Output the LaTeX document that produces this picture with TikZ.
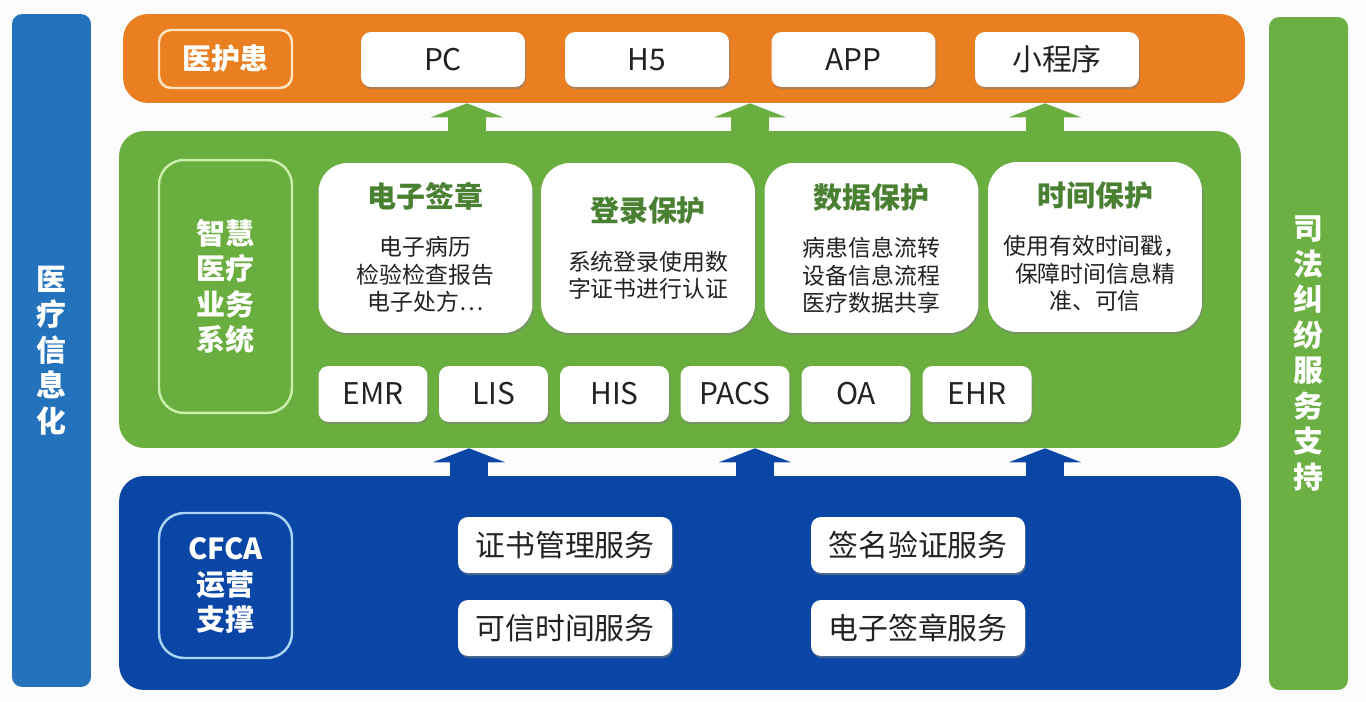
\documentclass[tikz,border=0pt]{standalone}
\usepackage{fontspec}
\setmainfont{Noto Sans CJK SC}
\usetikzlibrary{arrows.meta,shadows}

\begin{document}
\begin{tikzpicture}[x=0.02cm,y=-0.02cm,
   panel/.style={rounded corners=0.5cm,inner sep=0},
   sidebar/.style={fill=#1,rounded corners=0.2cm,inner sep=0,minimum width=1.58cm,minimum height=13.46cm,text=white,align=center,font=\fontsize{17}{20.2}\selectfont\bfseries},
   labelbox/.style={draw=#1,line width=1.4pt,inner sep=0,minimum width=2.66cm,text=white,align=center,font=\fontsize{16.5}{20.2}\selectfont\bfseries},
   whitebox/.style={fill=white,inner sep=0,rounded corners=0.2cm,text=textgray,font=\fontsize{17}{20}\selectfont,drop shadow={shadow xshift=0.6pt,shadow yshift=-1.2pt,opacity=0.55}},
   topbox/.style={whitebox,minimum width=3.28cm,minimum height=1.1cm},
   sysbox/.style={whitebox,minimum width=2.18cm,minimum height=1.12cm},
   servicebox/.style={whitebox,minimum width=4.28cm,minimum height=1.12cm},
   card/.style={whitebox,rounded corners=0.58cm,minimum width=4.28cm,minimum height=3.4cm},
   cardtitle/.style={text=titlegreen,font=\fontsize{16.5}{20}\selectfont\bfseries},
   cardtext/.style={text=textgray,align=center,font=\fontsize{13}{15.6}\selectfont},
   blockarrow/.style={draw=#1,line width=0.76cm,-{Triangle[width=1.44cm,length=0.28cm]}}]
   \definecolor{pagewhite}{HTML}{FCFCFC}
   \definecolor{barblue}{HTML}{2472BC}
   \definecolor{bargreen}{HTML}{6CB044}
   \definecolor{panelorange}{HTML}{E97F20}
   \definecolor{panelgreen}{HTML}{69AE3E}
   \definecolor{panelblue}{HTML}{0A46A5}
   \definecolor{linecream}{HTML}{FCE5C0}
   \definecolor{linegreen}{HTML}{C8F0A8}
   \definecolor{lineblue}{HTML}{A9D4F5}
   \definecolor{titlegreen}{HTML}{4A8032}
   \definecolor{textgray}{HTML}{222222}
   \fill[pagewhite] (0,0) rectangle (1366,702);
   \useasboundingbox (0,0) rectangle (1366,702);
   % side bars
   \node[sidebar=barblue] (leftbar) at (51.5,350.5) {医\\疗\\信\\息\\化};
   \node[sidebar=bargreen] (rightbar) at (1308.5,353.5) {司\\法\\纠\\纷\\服\\务\\支\\持};
   % arrow feet
   \coordinate (ga) at (467,135);
   \coordinate (gb) at (750,135);
   \coordinate (gc) at (1045,135);
   \coordinate (ba) at (469,480);
   \coordinate (bb) at (755,480);
   \coordinate (bc) at (1045,480);
   % panels
   \node[panel,fill=panelorange,minimum width=22.44cm,minimum height=1.78cm] (userpanel) at (684,58.5) {};
   \node[panel,fill=panelgreen,minimum width=22.44cm,minimum height=6.34cm] (bizpanel) at (680,289.5) {};
   \node[panel,fill=panelblue,minimum width=22.44cm,minimum height=4.28cm] (cfcapanel) at (680,583) {};
   \draw[blockarrow=panelgreen] (ga) -- (ga |- userpanel.south);
   \draw[blockarrow=panelgreen] (gb) -- (gb |- userpanel.south);
   \draw[blockarrow=panelgreen] (gc) -- (gc |- userpanel.south);
   \draw[blockarrow=panelblue] (ba) -- (ba |- bizpanel.south);
   \draw[blockarrow=panelblue] (bb) -- (bb |- bizpanel.south);
   \draw[blockarrow=panelblue] (bc) -- (bc |- bizpanel.south);
   % top row
   \node[labelbox=linecream,rounded corners=0.24cm,minimum height=1.16cm] (userlabel) at (225.5,59) {医护患};
   \node[topbox] (pc) at (443,59.5) {PC};
   \node[topbox] (hfive) at (647,59.5) {H5};
   \node[topbox] (app) at (853.5,59.5) {APP};
   \node[topbox] (mini) at (1057,59.5) {小程序};
   % middle block
   \node[labelbox=linegreen,rounded corners=0.5cm,minimum height=5.06cm] (bizlabel) at (225.5,286.5) {智慧\\医疗\\业务\\系统};
   \node[card] (sign) at (425.5,248) {};
   \node[card] (login) at (648,248) {};
   \node[card] (data) at (871.5,248) {};
   \node[card] (time) at (1095,247) {};
   \node[cardtitle] (signtitle) at (425.5,196) {电子签章};
   \node[cardtitle] (logintitle) at (648,211) {登录保护};
   \node[cardtitle] (datatitle) at (871.5,198) {数据保护};
   \node[cardtitle] (timetitle) at (1095,196) {时间保护};
   \node[cardtext] (signtext) at (425.5,274.5) {电子病历\\检验检查报告\\电子处方…};
   \node[cardtext] (logintext) at (648,275.5) {系统登录使用数\\字证书进行认证};
   \node[cardtext] (datatext) at (871.5,275.5) {病患信息流转\\设备信息流程\\医疗数据共享};
   \node[cardtext] (timetext) at (1095,273.5) {使用有效时间戳，\\保障时间信息精\\准、可信};
   \node[sysbox] (emr) at (373,394) {EMR};
   \node[sysbox] (lis) at (493.5,394) {LIS};
   \node[sysbox] (his) at (614.5,394) {HIS};
   \node[sysbox] (pacs) at (735,394) {PACS};
   \node[sysbox] (oa) at (856,394) {OA};
   \node[sysbox] (ehr) at (977,394) {EHR};
   % bottom block
   \node[labelbox=lineblue,rounded corners=0.5cm,minimum height=2.9cm] (cfcalabel) at (225.5,585.5) {CFCA\\运营\\支撑};
   \node[servicebox] (certsrv) at (565,545) {证书管理服务};
   \node[servicebox] (verifysrv) at (918,545) {签名验证服务};
   \node[servicebox] (timesrv) at (565,628) {可信时间服务};
   \node[servicebox] (sealsrv) at (918,628) {电子签章服务};
\end{tikzpicture}
\end{document}
